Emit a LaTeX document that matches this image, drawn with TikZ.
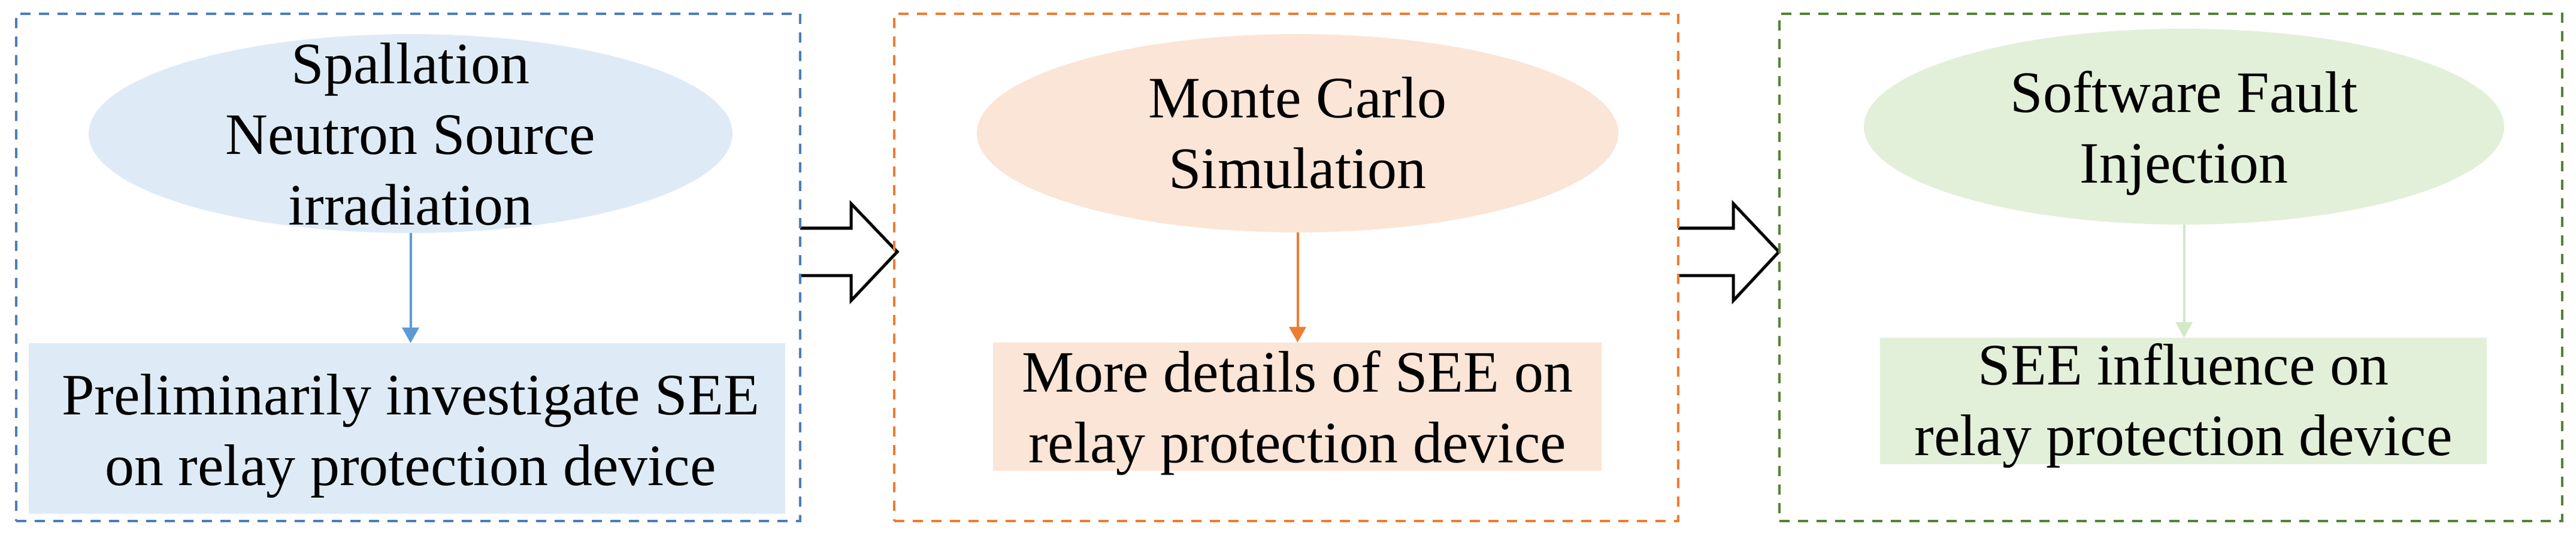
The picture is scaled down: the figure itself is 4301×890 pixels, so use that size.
\documentclass[tikz,border=0pt]{standalone}
\usepackage{fontspec}
\setmainfont{Liberation Serif}
\usetikzlibrary{shapes.geometric,arrows.meta}
\definecolor{bluedash}{HTML}{4A7EBB}
\definecolor{bluefill}{HTML}{DEEBF7}
\definecolor{bluearrow}{HTML}{5B9BD5}
\definecolor{orangedash}{HTML}{ED7D31}
\definecolor{orangefill}{HTML}{FBE5D6}
\definecolor{orangearrow}{HTML}{ED7D31}
\definecolor{greendash}{HTML}{548235}
\definecolor{greenfill}{HTML}{E2F0D9}
\definecolor{greenarrow}{HTML}{D3E8C8}
\tikzset{
  frame/.style={draw, line width=4pt, dash pattern=on 17pt off 14pt, rectangle, inner sep=0pt},
  ell/.style={ellipse, inner sep=0pt},
  rectbox/.style={rectangle, inner sep=0pt},
  txt/.style={align=center, inner sep=0pt, font=\fontsize{98}{118}\selectfont},
  flow/.style={line width=4pt, -{Triangle[width=28pt,length=26pt]}},
  bigarrow/.style={draw=black, line width=5pt, fill=white, line join=miter},
}
\begin{document}
\begin{tikzpicture}[x=1pt,y=1pt]
\useasboundingbox (0,0) rectangle (4301,-890);
\fill[white] (0,0) rectangle (4301,-890);

% block arrows between stages
\filldraw[bigarrow] (1336,-381) -- (1421,-381) -- (1421,-340) -- (1498,-420.5) -- (1421,-502) -- (1421,-460) -- (1336,-460);
\filldraw[bigarrow] (2802,-381) -- (2894,-381) -- (2894,-340) -- (2970,-420.5) -- (2894,-502) -- (2894,-460) -- (2802,-460);

% frames
\node[frame, draw=bluedash, minimum width=1309pt, minimum height=847pt] (f1) at (681.5,-446.5) {};
\node[frame, draw=orangedash, minimum width=1309pt, minimum height=847pt] (f2) at (2147.5,-446.5) {};
\node[frame, draw=greendash, minimum width=1307pt, minimum height=847pt] (f3) at (3624.5,-446.5) {};

% stage 1
\node[ell, fill=bluefill, minimum width=1075pt, minimum height=332pt] (e1) at (685.5,-223) {};
\node[rectbox, fill=bluefill, minimum width=1263pt, minimum height=285pt] (r1) at (679.5,-715.5) {};
\node[txt, anchor=base] (t1) at (685.5,-375) {Spallation\\Neutron Source\\irradiation};
\node[txt, anchor=base] (u1) at (685.5,-810) {Preliminarily investigate SEE\\on relay protection device};
\draw[flow, bluearrow] (e1.south) -- (e1.south |- r1.north);

% stage 2
\node[ell, fill=orangefill, minimum width=1071pt, minimum height=331pt] (e2) at (2166.5,-222.5) {};
\node[rectbox, fill=orangefill, minimum width=1016pt, minimum height=214pt] (r2) at (2166,-679) {};
\node[txt, anchor=base] (t2) at (2166.5,-315) {Monte Carlo\\Simulation};
\node[txt, anchor=base] (u2) at (2166,-772) {More details of SEE on\\relay protection device};
\draw[flow, orangearrow] (e2.south) -- (e2.south |- r2.north);

% stage 3
\node[ell, fill=greenfill, minimum width=1069pt, minimum height=327pt] (e3) at (3646.5,-211.5) {};
\node[rectbox, fill=greenfill, minimum width=1013pt, minimum height=211pt] (r3) at (3645.5,-669.5) {};
\node[txt, anchor=base] (t3) at (3646.5,-306) {Software Fault\\Injection};
\node[txt, anchor=base] (u3) at (3645.5,-760) {SEE influence on\\relay protection device};
\draw[flow, greenarrow] (e3.south) -- (e3.south |- r3.north);
\end{tikzpicture}
\end{document}
